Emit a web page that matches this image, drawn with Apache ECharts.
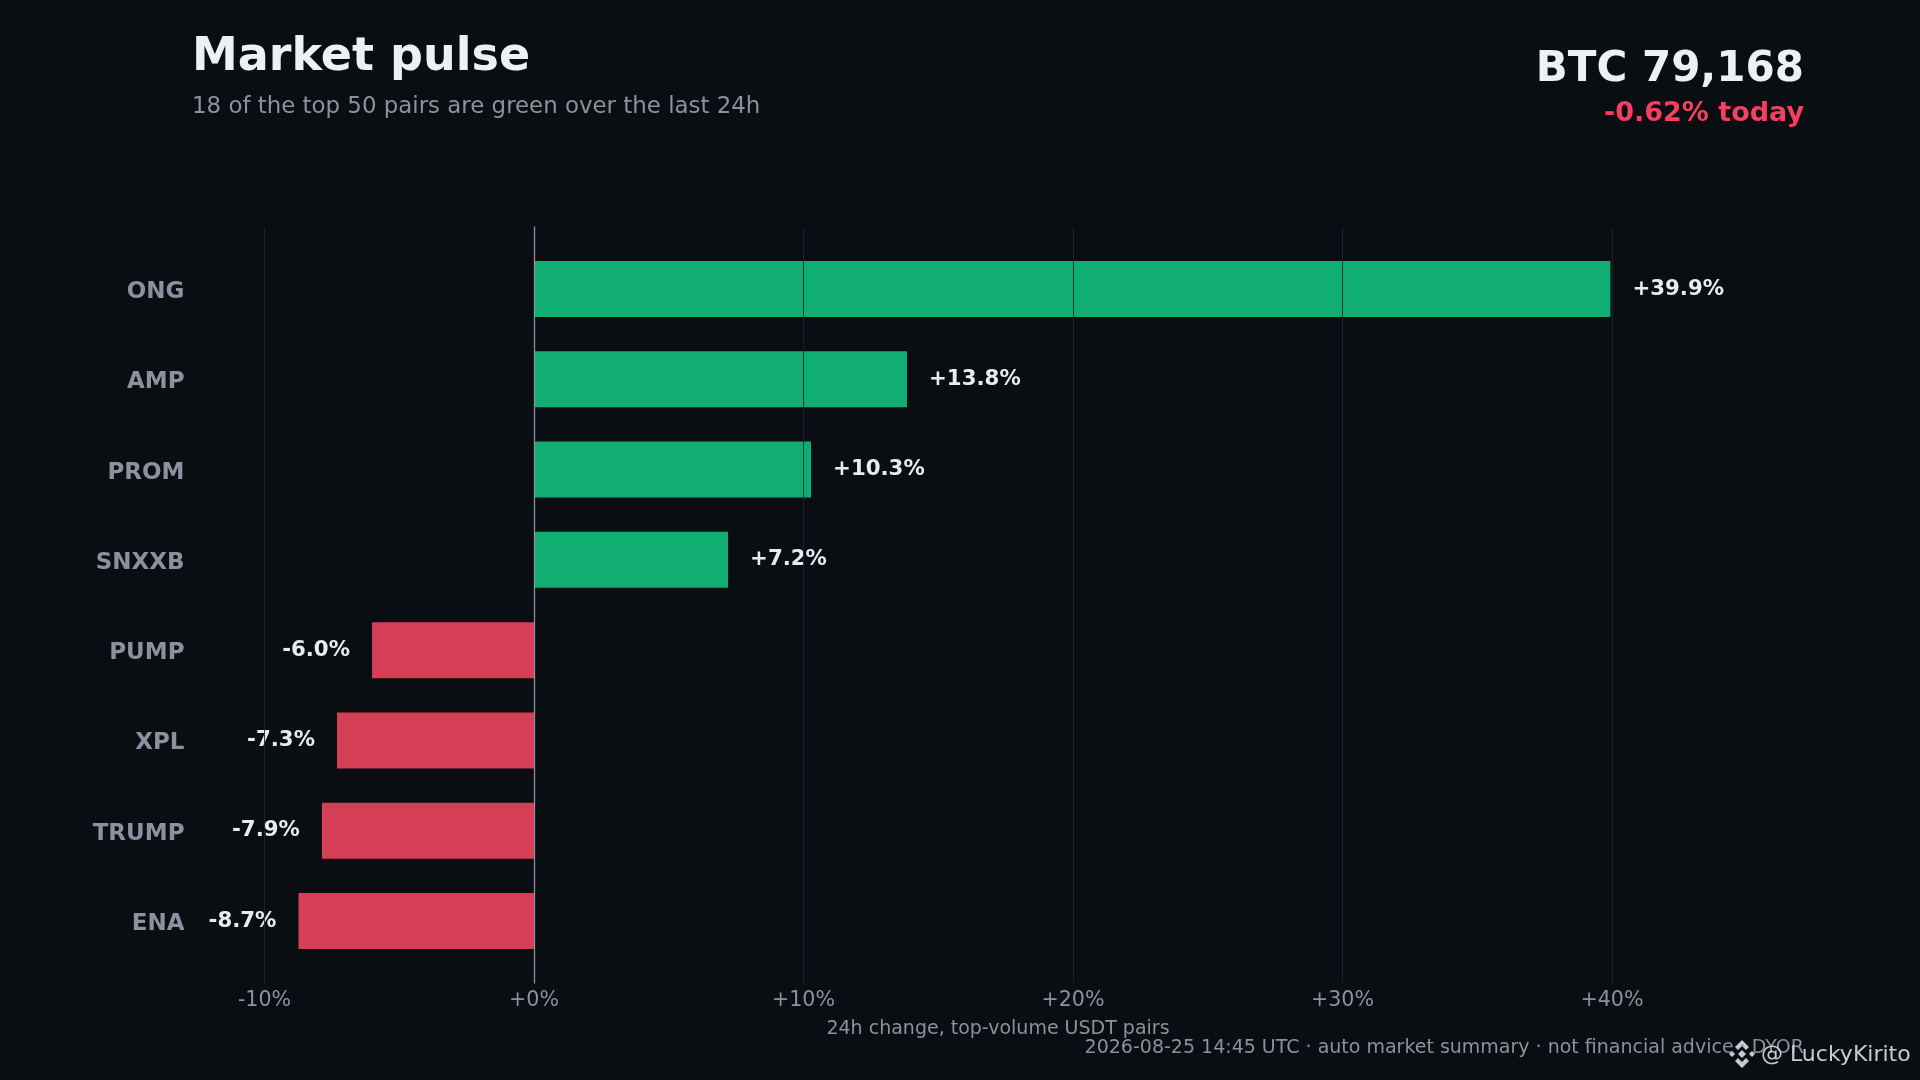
<!DOCTYPE html>
<html><head><meta charset="utf-8">
<style>html,body{margin:0;padding:0;background:#0a0e12}#c{width:1920px;height:1080px}</style>
<script src="https://cdn.jsdelivr.net/npm/echarts@6/dist/echarts.min.js"></script>
</head><body><div id="c"></div>
<script>
const pairs = ['ONG','AMP','PROM','SNXXB','PUMP','XPL','TRUMP','ENA'];
const changes = [39.94,13.84,10.28,7.2,-6.01,-7.31,-7.87,-8.74];
const titleText = 'Market pulse';
const subtitleText = '18 of the top 50 pairs are green over the last 24h';
const btcText = 'BTC 79,168';
const btcChangeText = '-0.62% today';
const axisNameText = '24h change, top-volume USDT pairs';
const footerText = '2026-08-25 14:45 UTC · auto market summary · not financial advice · DYOR';
const watermarkText = '@ LuckyKirito';

const FONT = '"DejaVu Sans"';
const GREEN = '#10ae72', RED = '#d43f55', TXT = '#eef0f4', LABEL = '#e8ebf0', MUTED = '#8a92a0', WM = '#c8cacf';
const fmtPct = v => (v < 0 ? '' : '+') + v.toFixed(1) + '%';

const txt = (text, left, top, size, color, weight, align) => ({
  text, left, top,
  textAlign: align || 'left',
  textVerticalAlign: 'middle',
  textStyle: {fontFamily: FONT, fontSize: size, fontWeight: weight || 'normal', color}
});

const chart = echarts.init(document.getElementById('c'), null, {renderer:'canvas'});
chart.setOption({
  backgroundColor:'#0a0e12',
  animation:false,
  title:[
    txt(titleText,187,53,46,TXT,'bold'),
    txt(subtitleText,187,102,22.9,MUTED),
    txt(btcText,1799,65,42,TXT,'bold','right'),
    txt(btcChangeText,1799,109,27,'#f43f5e','bold','right'),
    txt(axisNameText,993,1024,19,MUTED,'normal','center'),
    txt(footerText,1799,1043,19,MUTED,'normal','right'),
    txt(watermarkText,1756,1050,22,WM,'normal')
  ],
  grid:[
    {left:264.5,right:308,top:227,bottom:97},
    {left:264.5,right:308,top:243.85,bottom:113.85}
  ],
  xAxis:[
    {gridIndex:0,type:'value',min:-10,max:40,interval:10,z:5,
     axisLine:{show:false},axisTick:{show:false},
     splitLine:{show:true,lineStyle:{color:'rgba(32,37,44,0.88)',width:1}},
     axisLabel:{margin:7.5,color:MUTED,fontFamily:FONT,fontSize:20.6,formatter:v=>(v<0?'':'+')+v+'%'}},
    {gridIndex:1,type:'value',min:-10,max:40,interval:10,show:false,splitLine:{show:false}}
  ],
  yAxis:[
    {gridIndex:0,type:'value',min:0,max:1,interval:1,z:6,
     axisLine:{show:true,onZero:true,lineStyle:{color:'#8b919b',width:1.3}},
     axisTick:{show:false},axisLabel:{show:false},splitLine:{show:false}},
    {gridIndex:1,type:'category',data:pairs,inverse:true,
     axisLine:{show:false,onZero:false},axisTick:{show:false},splitLine:{show:false},
     axisLabel:{margin:80,verticalAlign:'top',lineHeight:6,color:MUTED,fontFamily:FONT,fontSize:23,fontWeight:'bold'}}
  ],
  series:[{
    type:'bar',xAxisIndex:1,yAxisIndex:1,barWidth:56,z:2,
    data:changes.map(v=>({value:v,itemStyle:{color:v>=0?GREEN:RED},
      label:{position:v>=0?'right':'left'}})),
    label:{show:true,distance:22,offset:[0,0],color:LABEL,fontFamily:FONT,fontSize:21.3,fontWeight:'bold',
      formatter:p=>fmtPct(p.value)}
  }],
  graphic:[{
    type:'group',left:1729,top:1040,
    children:[
      {type:'polygon',shape:{points:[[13,0],[20,7],[17,10],[13,6],[9,10],[6,7]]},style:{fill:WM}},
      {type:'polygon',shape:{points:[[13,28],[20,21],[17,18],[13,22],[9,18],[6,21]]},style:{fill:WM}},
      {type:'polygon',shape:{points:[[0,14],[3,11],[6,14],[3,17]]},style:{fill:WM}},
      {type:'polygon',shape:{points:[[20,14],[23,11],[26,14],[23,17]]},style:{fill:WM}},
      {type:'polygon',shape:{points:[[13,10],[17,14],[13,18],[9,14]]},style:{fill:WM}}
    ]
  }]
});
</script></body></html>
